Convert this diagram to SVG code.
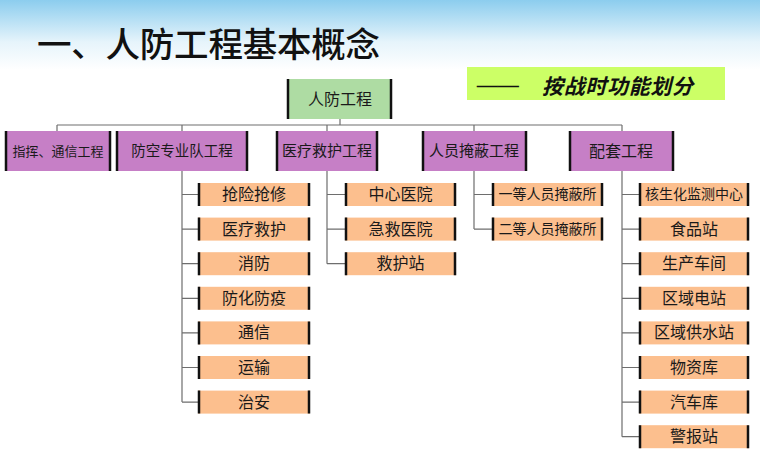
<svg xmlns="http://www.w3.org/2000/svg" width="760" height="453" viewBox="0 0 760 453">
<defs>
<linearGradient id="bg" x1="0" y1="0" x2="0" y2="1">
<stop offset="0" stop-color="#8ccdee"/>
<stop offset="0.6" stop-color="#e6f4fb"/>
<stop offset="1" stop-color="#ffffff"/>
</linearGradient>
<style>
.t{font-family:"Liberation Serif","Noto Sans CJK SC",serif;fill:#1a1a1a;text-anchor:middle;dominant-baseline:central}
.side{stroke:#111;stroke-width:2.5}
.c{stroke:#6e6e6e;stroke-width:1.2;fill:none}
.l2{fill:#c67fc6}
.l3{fill:#fcbf8e}
</style>
</defs>
<rect x="0" y="0" width="760" height="453" fill="#fff"/>
<rect x="0" y="0" width="760" height="70" fill="url(#bg)"/>
<text x="37" y="57" font-family="Noto Sans CJK SC,sans-serif" font-size="34.5" font-weight="500" fill="#111" textLength="343">一、人防工程基本概念</text>
<g id="legend">
<rect x="467" y="67" width="258" height="33" fill="#ccff66"/>
<text x="477" y="85" font-family="Liberation Serif,Noto Sans CJK SC,serif" font-size="21" font-weight="bold" font-style="italic" dominant-baseline="central" fill="#111">——</text>
<text x="542" y="85" font-family="Noto Sans CJK SC,sans-serif" font-size="21" font-weight="bold" font-style="italic" dominant-baseline="central" fill="#111" textLength="151">按战时功能划分</text>
</g>
<g id="connectors" class="c">
<path d="M340 119V125M57 125H622M57 125V131M182 125V131M327 125V131M474 125V131M622 125V131"/>
<path d="M182 171V402M182 194.5H198M182 229.1H198M182 263.7H198M182 298.3H198M182 332.9H198M182 367.5H198M182 402.1H198"/>
<path d="M327 171V263.7M327 194.5H345M327 229.1H345M327 263.7H345"/>
<path d="M474 171V229.1M474 194.5H492M474 229.1H492"/>
<path d="M622 171V436.7M622 194.5H639M622 229.1H639M622 263.7H639M622 298.3H639M622 332.9H639M622 367.5H639M622 402.1H639M622 436.7H639"/>
</g>
<g id="root">
<rect x="287" y="79" width="105" height="40" fill="#aedca3"/>
<path class="side" d="M288 79V119M391 79V119"/>
<text class="t" x="340" y="99" font-size="16">人防工程</text>
</g>
<g id="n-zhihui">
<rect class="l2" x="5" y="131" width="106" height="40"/>
<path class="side" d="M6 131V171M110 131V171"/>
<text class="t" x="58" y="151" font-size="13">指挥、通信工程</text>
</g>
<g id="n-fangkong">
<rect class="l2" x="116" y="131" width="132" height="40"/>
<path class="side" d="M117 131V171M247 131V171"/>
<text class="t" x="182" y="151" font-size="14.5">防空专业队工程</text>
</g>
<g id="n-yiliao">
<rect class="l2" x="276" y="131" width="102" height="40"/>
<path class="side" d="M277 131V171M377 131V171"/>
<text class="t" x="327" y="151" font-size="15">医疗救护工程</text>
</g>
<g id="n-renyuan">
<rect class="l2" x="422" y="131" width="105" height="40"/>
<path class="side" d="M423 131V171M526 131V171"/>
<text class="t" x="474" y="151" font-size="15">人员掩蔽工程</text>
</g>
<g id="n-peitao">
<rect class="l2" x="569" y="131" width="105" height="40"/>
<path class="side" d="M570 131V171M673 131V171"/>
<text class="t" x="621" y="151" font-size="16">配套工程</text>
</g>
<g id="fk1"><rect class="l3" x="198" y="183" width="112" height="23"/><path class="side" d="M199 183V206M309 183V206"/><text class="t" x="254" y="194.5" font-size="16">抢险抢修</text></g>
<g id="fk2"><rect class="l3" x="198" y="217.6" width="112" height="23"/><path class="side" d="M199 217.6V240.6M309 217.6V240.6"/><text class="t" x="254" y="229.1" font-size="16">医疗救护</text></g>
<g id="fk3"><rect class="l3" x="198" y="252.2" width="112" height="23"/><path class="side" d="M199 252.2V275.2M309 252.2V275.2"/><text class="t" x="254" y="263.7" font-size="16">消防</text></g>
<g id="fk4"><rect class="l3" x="198" y="286.8" width="112" height="23"/><path class="side" d="M199 286.8V309.8M309 286.8V309.8"/><text class="t" x="254" y="298.3" font-size="16">防化防疫</text></g>
<g id="fk5"><rect class="l3" x="198" y="321.4" width="112" height="23"/><path class="side" d="M199 321.4V344.4M309 321.4V344.4"/><text class="t" x="254" y="332.9" font-size="16">通信</text></g>
<g id="fk6"><rect class="l3" x="198" y="356" width="112" height="23"/><path class="side" d="M199 356V379M309 356V379"/><text class="t" x="254" y="367.5" font-size="16">运输</text></g>
<g id="fk7"><rect class="l3" x="198" y="390.6" width="112" height="23"/><path class="side" d="M199 390.6V413.6M309 390.6V413.6"/><text class="t" x="254" y="402.1" font-size="16">治安</text></g>
<g id="yl1"><rect class="l3" x="345" y="183" width="111" height="23"/><path class="side" d="M346 183V206M455 183V206"/><text class="t" x="400.5" y="194.5" font-size="16">中心医院</text></g>
<g id="yl2"><rect class="l3" x="345" y="217.6" width="111" height="23"/><path class="side" d="M346 217.6V240.6M455 217.6V240.6"/><text class="t" x="400.5" y="229.1" font-size="16">急救医院</text></g>
<g id="yl3"><rect class="l3" x="345" y="252.2" width="111" height="23"/><path class="side" d="M346 252.2V275.2M455 252.2V275.2"/><text class="t" x="400.5" y="263.7" font-size="16">救护站</text></g>
<g id="ry1"><rect class="l3" x="492" y="183" width="111" height="23"/><path class="side" d="M493 183V206M602 183V206"/><text class="t" x="547.5" y="194.5" font-size="14">一等人员掩蔽所</text></g>
<g id="ry2"><rect class="l3" x="492" y="217.6" width="111" height="23"/><path class="side" d="M493 217.6V240.6M602 217.6V240.6"/><text class="t" x="547.5" y="229.1" font-size="14">二等人员掩蔽所</text></g>
<g id="pt1"><rect class="l3" x="639" y="183" width="110" height="23"/><path class="side" d="M640 183V206M748 183V206"/><text class="t" x="694" y="194.5" font-size="14">核生化监测中心</text></g>
<g id="pt2"><rect class="l3" x="639" y="217.6" width="110" height="23"/><path class="side" d="M640 217.6V240.6M748 217.6V240.6"/><text class="t" x="694" y="229.1" font-size="16">食品站</text></g>
<g id="pt3"><rect class="l3" x="639" y="252.2" width="110" height="23"/><path class="side" d="M640 252.2V275.2M748 252.2V275.2"/><text class="t" x="694" y="263.7" font-size="16">生产车间</text></g>
<g id="pt4"><rect class="l3" x="639" y="286.8" width="110" height="23"/><path class="side" d="M640 286.8V309.8M748 286.8V309.8"/><text class="t" x="694" y="298.3" font-size="16">区域电站</text></g>
<g id="pt5"><rect class="l3" x="639" y="321.4" width="110" height="23"/><path class="side" d="M640 321.4V344.4M748 321.4V344.4"/><text class="t" x="694" y="332.9" font-size="16">区域供水站</text></g>
<g id="pt6"><rect class="l3" x="639" y="356" width="110" height="23"/><path class="side" d="M640 356V379M748 356V379"/><text class="t" x="694" y="367.5" font-size="16">物资库</text></g>
<g id="pt7"><rect class="l3" x="639" y="390.6" width="110" height="23"/><path class="side" d="M640 390.6V413.6M748 390.6V413.6"/><text class="t" x="694" y="402.1" font-size="16">汽车库</text></g>
<g id="pt8"><rect class="l3" x="639" y="425.2" width="110" height="23"/><path class="side" d="M640 425.2V448.2M748 425.2V448.2"/><text class="t" x="694" y="436.7" font-size="16">警报站</text></g>
</svg>
